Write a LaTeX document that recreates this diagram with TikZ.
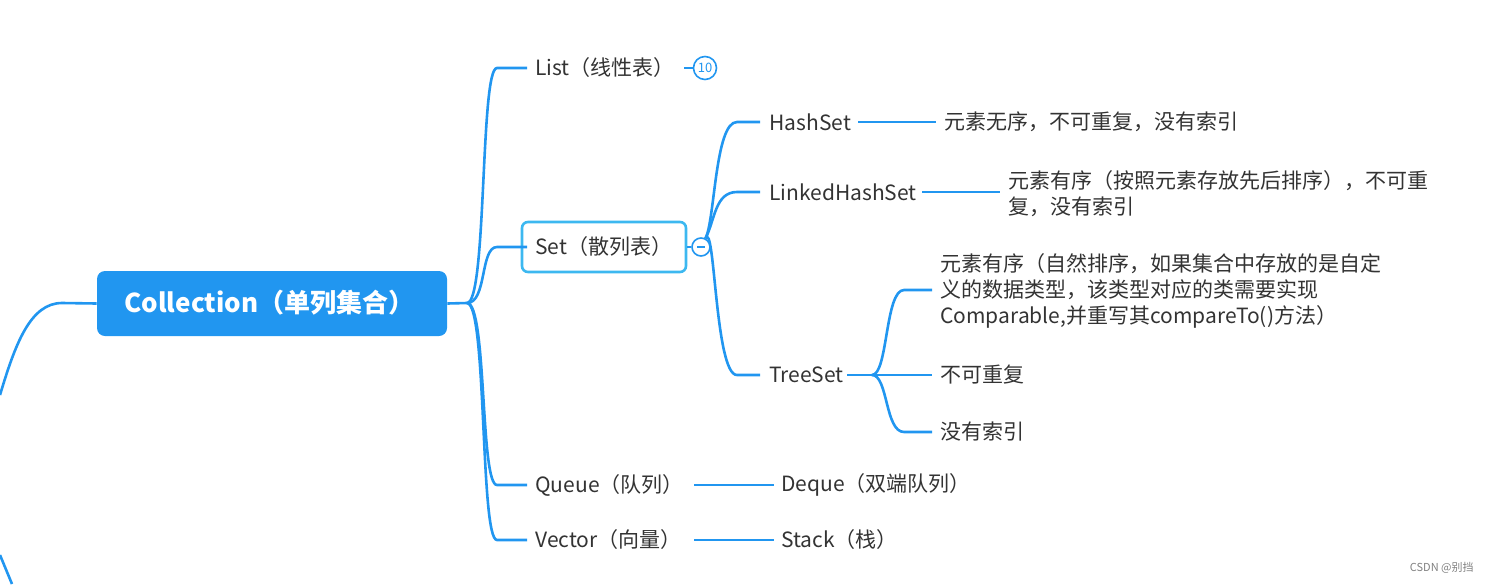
\documentclass[tikz,border=0pt]{standalone}
\usepackage{fontspec}
\setmainfont{Noto Sans CJK SC}
\definecolor{blu}{HTML}{2196F0}
\definecolor{lblu}{HTML}{3CB8F0}
\definecolor{txt}{HTML}{333333}
\begin{document}
\begin{tikzpicture}[x=0.5pt,y=-0.5pt,
  ln/.style={draw=blu,line width=1.3pt},
  t/.style={anchor=west,inner sep=0pt,text=txt,font=\fontsize{10.5}{13}\selectfont},
  tb/.style={t,align=left}]
\useasboundingbox (0,0) rectangle (1488,584);
% root
\node[fill=blu,rounded corners=4pt,minimum width=175pt,minimum height=32.5pt,inner sep=0pt] (root) at (272,303.5) {};
\node[anchor=west,inner sep=0pt,text=white,font=\fontsize{13}{15}\bfseries\selectfont] (rt) at (124,303) {Collection（单列集合）};
\coordinate (L1) at (0,395);
\coordinate (L2) at (0,555);
\coordinate (L3) at (12,584);
\draw[ln] (root.west) -- (62,303) .. controls (30,303) and (15,345) .. (L1);
\draw[ln] (L2) -- (L3);
\coordinate (hub) at (467,303);
\draw[ln] (root.east) -- (hub);
% level 1
\node[t] (list) at (535,68) {List（线性表）};
\node[draw=lblu,line width=1.3pt,rounded corners=3pt,minimum width=82pt,minimum height=25pt,inner sep=0pt] (setb) at (604,247) {};
\node[t] (set) at (535,247) {Set（散列表）};
\node[t] (queue) at (535,485) {Queue（队列）};
\node[t] (vec) at (535,540) {Vector（向量）};
\foreach \y/\n in {68/a,247/b,485/c,540/d}{
  \coordinate (e\n) at (527,\y);
  \draw[ln] (hub) .. controls (487,303) and (480,\y) .. (497,\y) -- (e\n);
}
% list collapse marker
\node[draw=blu,circle,line width=0.8pt,minimum size=11.5pt,inner sep=0pt,text=blu,font=\fontsize{6.5}{7}\selectfont] (ten) at (705,68) {10};
\draw[ln] (684,68) -- (ten.west);
% set minus
\node[draw=blu,circle,line width=0.8pt,minimum size=9pt,inner sep=0pt,fill=white] (minus) at (701,247) {};
\draw[blu,line width=0.8pt] (697,247) -- (705,247);
\draw[ln] (setb.east) -- (minus.west);
\node[t] (hs) at (769,122) {HashSet};
\node[t] (lhs) at (769,192) {LinkedHashSet};
\node[t] (ts) at (769,375) {TreeSet};
\foreach \y/\n in {122/a,192/b,375/c}{
  \coordinate (f\n) at (760,\y);
  \draw[ln] (minus) .. controls (715,220) and (715,\y) .. (737,\y) -- (f\n);
}
\node[t] (hs1) at (944,122) {元素无序，不可重复，没有索引};
\draw[ln,shorten >=4pt] (858,122) -- (hs1.west);
\node[tb] (lhs1) at (1008,193.5) {元素有序（按照元素存放先后排序），不可重\\复，没有索引};
\draw[ln,shorten >=4pt] (922,192) -- (lhs1.west |- 0,192);
\coordinate (th) at (872,375);
\draw[ln] (847,375) -- (th);
\node[tb] (ts1) at (940,290.5) {元素有序（自然排序，如果集合中存放的是自定\\义的数据类型，该类型对应的类需要实现\\Comparable,并重写其compareTo()方法）};
\node[t] (ts2) at (940,375) {不可重复};
\node[t] (ts3) at (940,432) {没有索引};
\foreach \y/\n in {290/ts1,375/ts2,432/ts3}{
  \draw[ln] (th) .. controls (888,375) and (885,\y) .. (904,\y) -- (932,\y);
}
\node[t] (dq) at (781,485) {Deque（双端队列）};
\draw[ln] (694,485) -- (774,485);
\node[t] (st) at (781,540) {Stack（栈）};
\draw[ln] (694,540) -- (774,540);
\node[anchor=east,inner sep=0pt,text=gray,font=\fontsize{5.5}{6}\selectfont] (wm) at (1474,568) {CSDN @别挡};
\end{tikzpicture}
\end{document}
